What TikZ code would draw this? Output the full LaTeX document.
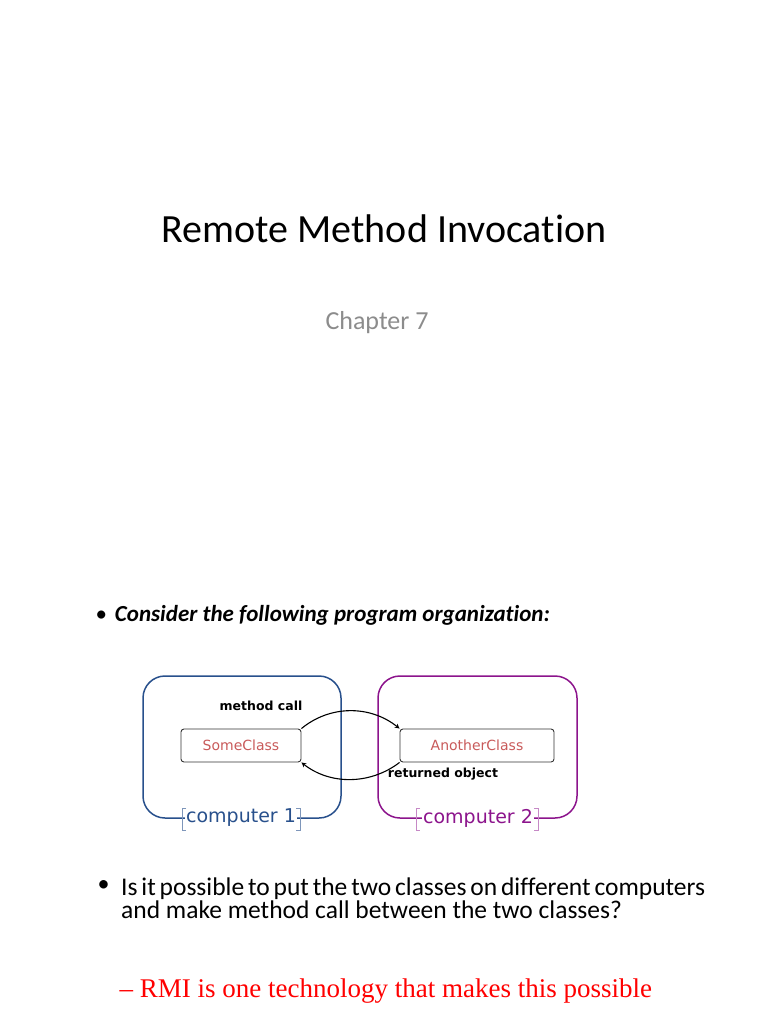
\documentclass[tikz,border=0pt]{standalone}
\usepackage{fontspec}
\setmainfont[RawFeature=-liga]{Carlito}
\newfontfamily\dv{DejaVu Sans}
\newfontfamily\tnr{Liberation Serif}
\definecolor{c1}{RGB}{40,80,140}
\definecolor{c2}{RGB}{140,20,140}
\definecolor{cls}{RGB}{200,90,90}
\definecolor{gr}{RGB}{140,140,140}
\begin{document}
\begin{tikzpicture}[x=1pt,y=-1pt,
  comp/.style={draw,line width=1.5pt,rounded corners=22pt},
  cls/.style={draw=black!80,line width=0.9pt,rounded corners=3pt,font=\dv\fontsize{14}{16}\selectfont,text=cls},
  lbl/.style={font=\dv\bfseries\fontsize{12.5}{14}\selectfont},
  arr/.style={->,>=stealth,line width=1.1pt}]
\useasboundingbox (0,0) rectangle (768,1024);
\node (title) at (384,229) {\fontsize{40}{44}\selectfont Remote Method Invocation};
\node[text=gr] (chap) at (377,323) {\fontsize{26}{30}\selectfont Chapter 7};
\node[anchor=west] (b1) at (92,615) {\fontsize{23}{27}\selectfont •\hspace{8pt}\textbf{\textit{Consider the following program organization:}}};
\draw[comp,c1] (143,676) rectangle (341,818);
\draw[comp,c2] (378,676) rectangle (577,818);
\node[cls,minimum width=120pt,minimum height=33pt] (sc) at (241,745.5) {SomeClass};
\node[cls,minimum width=154pt,minimum height=33pt] (ac) at (477,745.5) {AnotherClass};
\node[lbl] (mc) at (261,706) {method call};
\node[lbl] (ro) at (443,774) {returned object};
\draw[arr] (sc.north east) .. controls (330,705) and (370,705) .. (ac.north west);
\draw[arr] (ac.south west) .. controls (370,785) and (330,785) .. (sc.south east);
\node[fill=white,inner sep=1pt,text=c1,font=\dv\fontsize{19}{21}\selectfont] (l1) at (241,818) {computer 1};
\draw[c1!60] (186,808) -- (182,808) -- (182,830) -- (186,830) (296,808) -- (300,808) -- (300,830) -- (296,830);
\node[fill=white,inner sep=1pt,text=c2,font=\dv\fontsize{19}{21}\selectfont] (l2) at (478,818) {computer 2};
\draw[c2!50] (420,808) -- (416,808) -- (416,830) -- (420,830) (534,808) -- (538,808) -- (538,830) -- (534,830);
\node[anchor=north west] (bul) at (94,877) {\fontsize{24}{33}\selectfont •};
\node[anchor=north west,text width=584pt,align=justify,inner sep=0pt] (body) at (121,878) {\fontsize{25.5}{33}\selectfont Is it possible to put the two classes on different computers and make method call between the two classes?};
\node[anchor=west,text=red] (rmi) at (116,991) {\tnr\fontsize{27}{30}\selectfont – RMI is one technology that makes this possible};
\end{tikzpicture}
\end{document}
